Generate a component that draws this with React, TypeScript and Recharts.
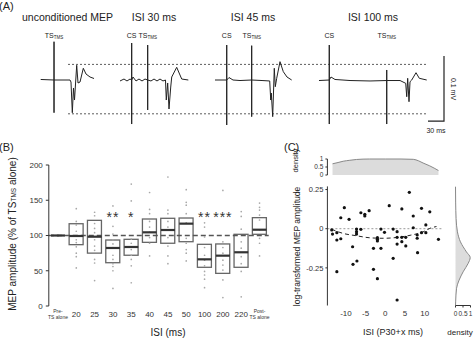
import React from 'react';
import {
  ComposedChart,
  AreaChart,
  Area,
  Line,
  Bar,
  Scatter,
  XAxis,
  YAxis,
  ReferenceLine,
} from 'recharts';

const FONT = '"Liberation Sans", Arial, Helvetica, sans-serif';
const INK = '#222';

// ---------- (A) example traces: time in ms, amplitude in µV ----------
const traceTitles = ['unconditioned MEP', 'ISI 30 ms', 'ISI 45 ms', 'ISI 100 ms'];

const traceUncond = [
  [1.3, 0.8], [26.3, 0], [26.3, 58.9], [26.3, -50.3], [26.3, 0], [56.3, 0], [58.1, -3.1],
  [60.6, -50.3], [62.8, -12.3], [64.7, -30.8], [68.8, 22.6], [71.3, -4.6], [75, -3.1],
  [81.2, 18], [86.3, 9.2], [93.8, 4.6], [101.3, 2.3],
];
const traceIsi30 = [
  [150, -1.5], [157.5, 1.5], [163.1, -1.5], [168.8, 1.5], [171.9, 0], [171.9, 56.9],
  [171.9, -67.7], [171.9, 0], [174.4, 4.6], [180, -1.5], [185.6, 1.5], [191.3, -1.5],
  [196.9, 1.5], [201.9, 0], [201.9, 53.8], [201.9, -46.1], [201.9, 0], [208.1, -1.5],
  [213.8, 1.5], [219.4, -1.5], [225, 1.5], [230.6, -1.5], [235.3, 0], [236.8, -30.8],
  [239.4, -4.6], [241.9, -44.6], [245.1, -10.8], [247, 4.6], [256.3, 19.5], [265.7, 1.5],
  [278.1, 0],
];
const traceIsi45 = [
  [328.1, 0], [350.1, 0], [350.1, 53.8], [350.1, -69.2], [350.1, 0], [354.4, 3.8],
  [361.9, 0], [375, -0.8], [396.9, 0], [396.9, 52.8], [396.9, -56.4], [396.9, 0],
  [416.3, -0.8], [430.7, -1.5], [432.6, -30.8], [433.7, -20], [436.3, -56.4], [439.3, 18],
  [441.2, -10.3], [443.8, 2.6], [450, 28.2], [456.2, 12.8], [463.1, 4.6], [471.9, 0],
];
const traceIsi100 = [
  [523.1, -0.8], [542.4, 0], [542.4, 53.8], [542.4, -67.7], [542.4, 0], [545.6, 4.6],
  [553.1, 0.8], [581.3, -0.8], [618.8, -1.5], [650.1, -0.8], [650.1, 15.4], [650.1, -67.7],
  [650.1, -0.8], [675, -0.8], [685.7, -5.1], [687.6, -25.7], [689.4, 2.6], [691.9, -33.4],
  [693.8, -2.6], [697, 0], [705, 11.2], [711.2, 2.6], [725.1, 0],
];
const stimTimes = [26.3, 171.9, 201.9, 350.1, 396.9, 542.4, 650.1];
const stimKinds = ['TS', 'CS', 'TS', 'CS', 'TS', 'CS', 'TS'];
const mepPeak = 24;
const mepTrough = -52;
const scaleBar = [[727.5, -63.1], [757.5, -63.1], [757.5, 36.9]];

// ---------- (B) MEP amplitude per ISI ----------
const isiLabels = ['Pre-TS alone', '20', '25', '30', '35', '40', '45', '50', '100', '200', '220', 'Post-TS alone'];
const q1 = [100, 87, 75, 61.4, 72, 90.3, 89, 91.2, 54.9, 46.3, 54.9, 101.7];
const q3 = [100, 116.7, 121.5, 93.6, 94.6, 123.4, 124.4, 124.8, 87.5, 88, 101.7, 125.3];
const medians = [100, 99.3, 98.3, 82.3, 83.7, 104.5, 107.8, 116.8, 66.2, 71.4, 76.2, 108.2];
const subjectValues = [
  [100, 100, 100, 100, 100, 100, 100, 100, 100, 100],
  [138, 120, 115, 106, 99, 94, 90, 84, 75, 70, 54],
  [133, 128, 117, 110, 104, 94, 85, 79, 66, 61, 36],
  [142, 113, 102, 94, 88, 83, 72, 66, 60, 56, 50, 25],
  [173, 149, 95, 89, 84, 80, 72, 66, 57, 33],
  [161, 137, 131, 120, 112, 105, 97, 89, 71],
  [183, 136, 131, 120, 112, 97, 85, 71, 60],
  [165, 147, 143, 131, 118, 96, 89, 80, 75, 64],
  [118, 112, 98, 83, 72, 65, 57, 49, 44, 38, 26],
  [164, 91, 83, 75, 65, 58, 51, 37, 12],
  [134, 127, 109, 91, 82, 70, 60, 49, 13],
  [146, 140, 136, 129, 122, 108, 96, 89, 71],
];
const starIndex = [3, 4, 8, 9];
const starText = ['**', '*', '**', '***'];
const STAR_LEVEL = 129;

// ---------- (C) log-transformed MEP vs ISI around P30 ----------
const cX = [
  -13.6, -13.4, -12.3, -12.3, -11.3, -12.3, -11.3, -10.4, -9.2, -8.3, -7.3, -7.3, -7.3, -8.2,
  -7.2, -6.2, -6.2, -5.2, -5.2, -4.1, -3.0, -3.0, -2.0, -2.0, -2.0, -2.0, -1.1, -0.2, -1.1,
  1.0, 2.0, 2.0, 3.0, 3.0, 3.0, 3.0, 4.2, 4.2, 4.2, 5.2, 5.2, 6.1, 7.1, 7.1, 8.1, 8.1, 8.2,
  9.2, 9.2, 10.3, 10.3, 11.3, 13.5,
];
const cY = [
  -0.008, -0.034, -0.025, -0.072, -0.064, -0.274, 0.07, 0.134, 0.06, -0.115, -0.002, -0.019,
  -0.034, -0.227, -0.206, 0.102, -0.004, 0.092, 0.081, 0.115, -0.125, -0.259, -0.057, -0.068,
  -0.078, -0.319, -0.002, -0.023, -0.125, 0.147, -0.002, -0.189, -0.019, -0.055, -0.098,
  -0.455, 0.126, -0.055, -0.083, -0.055, -0.11, 0.232, 0.081, 0.006, -0.04, -0.061, -0.153,
  0.13, -0.025, 0.024, -0.025, 0.108, -0.068,
];
const fitX = [-13.6, -10.7, -7.3, -3.9, -0.5, 2.9, 6.3, 9.6, 11.3, 13];
const fitY = [-0.004, -0.03, -0.045, -0.058, -0.061, -0.056, -0.042, -0.02, 0.002, 0.014];
const topDensX = [-13.4, -12, -10.7, -9, -7.3, -4, 0, 4, 7.1, 8.5, 9.6, 11.3, 13.5];
const topDensD = [0.7, 0.78, 0.86, 0.92, 0.97, 1, 1, 1, 0.98, 0.88, 0.75, 0.57, 0.28];
const sideDensY = [0.27, 0.247, 0.16, 0.108, 0.055, 0.002, -0.036, -0.072, -0.136, -0.2, -0.285, -0.39, -0.49];
const sideDensD = [0, 0.01, 0.07, 0.24, 0.51, 0.84, 0.98, 0.73, 0.33, 0.13, 0.04, 0.01, 0];

const pts = (a: number[][]) => a.map(([t, v]) => ({ t, v }));

function StimLabel(props: any) {
  const { cx, cy, payload } = props;
  if (cx == null) return null;
  return (
    <text x={cx} y={cy} textAnchor="middle" fontSize={7} fill={INK} fontFamily={FONT}>
      {payload.kind}
      {payload.kind === 'TS' && (
        <tspan fontSize={4.5} dy={0.8}>TMS</tspan>
      )}
    </text>
  );
}

function BoxShape(props: any) {
  const { x, y, width, height } = props;
  if (!(height > 0.5)) return null;
  return <rect x={x} y={y} width={width} height={height} fill="none" stroke="#666" strokeWidth={1.3} />;
}

function MedianShape(props: any) {
  const { cx, cy } = props;
  return <line x1={cx - 7} x2={cx + 7} y1={cy} y2={cy} stroke="#333" strokeWidth={2.2} />;
}

function DotShape(props: any) {
  return <circle cx={props.cx} cy={props.cy} r={0.85} fill="#a8a8a8" />;
}

function StarShape(props: any) {
  const { cx, cy, payload } = props;
  return (
    <text x={cx} y={cy + 6.5} textAnchor="middle" fontSize={14} letterSpacing={1} fill="#333" fontFamily={FONT}>
      {payload.s}
    </text>
  );
}

function IsiTick(props: any) {
  const { x, y, payload } = props;
  const label = isiLabels[payload.value];
  if (!label) return null;
  if (label.indexOf('TS alone') >= 0) {
    const head = label.split('-')[0] + '-';
    return (
      <g fill="#333" fontFamily={FONT}>
        <text x={x} y={y + 7} textAnchor="middle" fontSize={5}>{head}</text>
        <text x={x} y={y + 12.5} textAnchor="middle" fontSize={5}>TS alone</text>
      </g>
    );
  }
  return (
    <text x={x} y={y + 10.7} textAnchor="middle" fontSize={8} fill="#333" fontFamily={FONT}>{label}</text>
  );
}

function SmallTick(props: any) {
  const { x, y, payload, size } = props;
  return (
    <text x={x} y={y + size + 2} textAnchor="middle" fontSize={size} fill="#333" fontFamily={FONT}>
      {String(payload.value)}
    </text>
  );
}

export default function App() {
  const stimData = stimTimes.map((t, i) => ({ t, v: 65, kind: stimKinds[i] }));
  const boxTable = isiLabels.map((label, i) => ({ x: i, label, box: [q1[i], q3[i]], median: medians[i] }));
  const dotTable = subjectValues.flatMap((vals, i) => vals.map((y) => ({ x: i, y })));
  const starTable = starIndex.map((i, k) => ({ x: i, y: STAR_LEVEL, s: starText[k] }));
  const cPoints = cX.map((x, i) => ({ x, y: cY[i] }));
  const fitLine = fitX.map((x, i) => ({ x, y: fitY[i] }));
  const topDens = topDensX.map((x, i) => ({ x, d: topDensD[i] }));
  const sideDens = sideDensY.map((val, i) => ({ val, d: sideDensD[i] }));
  const titleCenters = [67.5, 154, 253, 373];

  return (
    <div style={{ position: 'absolute', left: 0, top: 0, width: 474, height: 338, background: '#fff', fontFamily: FONT, overflow: 'hidden' }}>
      {/* (A) traces */}
      <div style={{ position: 'absolute', left: 0, top: 0 }}>
        <ComposedChart width={474} height={140} margin={{ top: 30, right: 24, bottom: 10, left: 40 }}>
          <XAxis type="number" dataKey="t" domain={[0, 768.75]} hide allowDataOverflow />
          <YAxis type="number" domain={[-76.9, 76.9]} hide allowDataOverflow />
          <ReferenceLine segment={[{ x: 52.5, y: mepPeak }, { x: 727.5, y: mepPeak }]} stroke="#333" strokeDasharray="2 2" strokeWidth={0.8} ifOverflow="visible" />
          <ReferenceLine segment={[{ x: 52.5, y: mepTrough }, { x: 727.5, y: mepTrough }]} stroke="#333" strokeDasharray="2 2" strokeWidth={0.8} ifOverflow="visible" />
          {[traceUncond, traceIsi30, traceIsi45, traceIsi100].map((tr, i) => (
            <Line key={i} data={pts(tr)} dataKey="v" type="linear" stroke={INK} strokeWidth={1} dot={false} isAnimationActive={false} />
          ))}
          <Line data={pts(scaleBar)} dataKey="v" type="linear" stroke={INK} strokeWidth={1.2} dot={false} isAnimationActive={false} />
          <Scatter data={stimData} dataKey="v" shape={<StimLabel />} isAnimationActive={false} />
        </ComposedChart>
      </div>

      {/* (B) boxplots */}
      <div style={{ position: 'absolute', left: 0, top: 150 }}>
        <ComposedChart width={280} height={190} data={boxTable} margin={{ top: 15, right: 11.3, bottom: 0, left: 0 }}>
          <XAxis type="number" dataKey="x" domain={[-0.5, 11.5]} ticks={[0, 1, 2, 3, 4, 5, 6, 7, 8, 9, 10, 11]}
            axisLine={false} tickLine={false} tickSize={0} tickMargin={0} height={34} tick={<IsiTick />} interval={0} />
          <YAxis type="number" domain={[0, 200]} ticks={[0, 50, 100, 150, 200]} width={48.8} tickSize={3} tickMargin={3}
            axisLine={{ stroke: '#333' }} tickLine={{ stroke: '#333' }} tick={{ fontSize: 8, fill: '#333' }} />
          <ReferenceLine y={100} stroke="#555" strokeDasharray="5 3" strokeWidth={1.5} />
          <Bar dataKey="box" barSize={14} shape={<BoxShape />} isAnimationActive={false} />
          <Scatter data={dotTable} dataKey="y" shape={<DotShape />} isAnimationActive={false} />
          <Scatter dataKey="median" shape={<MedianShape />} isAnimationActive={false} />
          <Scatter data={starTable} dataKey="y" shape={<StarShape />} isAnimationActive={false} />
        </ComposedChart>
      </div>

      {/* (C) top density */}
      <div style={{ position: 'absolute', left: 280, top: 150 }}>
        <AreaChart width={170} height={30} data={topDens} margin={{ top: 9, right: 8.4, bottom: 5, left: 0 }}>
          <XAxis type="number" dataKey="x" domain={[-14.7, 14.3]} hide allowDataOverflow />
          <YAxis type="number" domain={[0, 1]} ticks={[0, 0.5, 1]} width={47.4} tickSize={2} tickMargin={2}
            axisLine={{ stroke: '#333' }} tickLine={{ stroke: '#333' }} tick={{ fontSize: 6.5, fill: '#333' }} interval={0} />
          <Area dataKey="d" type="monotone" stroke="#888" strokeWidth={1} fill="#dcdcdc" fillOpacity={1} isAnimationActive={false} />
        </AreaChart>
      </div>

      {/* (C) scatter */}
      <div style={{ position: 'absolute', left: 280, top: 180 }}>
        <ComposedChart width={170} height={158} margin={{ top: 6.4, right: 8.4, bottom: 0, left: 0 }}>
          <XAxis type="number" dataKey="x" domain={[-14.7, 14.3]} ticks={[-10, -5, 0, 5, 10]} height={32.5}
            axisLine={false} tickLine={false} tickSize={0} tickMargin={0} allowDataOverflow interval={0}
            tick={<SmallTick size={8} />} />
          <YAxis type="number" domain={[-0.49, 0.27]} ticks={[-0.25, 0, 0.25]} width={47.4} tickSize={2} tickMargin={2}
            axisLine={{ stroke: '#333' }} tickLine={{ stroke: '#333' }} tick={{ fontSize: 7.5, fill: '#333' }} allowDataOverflow interval={0} />
          <ReferenceLine y={0} stroke="#999" strokeDasharray="2 2" strokeWidth={1} />
          <Scatter data={cPoints} dataKey="y" fill="#111" shape={(p: any) => <circle cx={p.cx} cy={p.cy} r={1.6} fill="#111" />} isAnimationActive={false} />
          <Line data={fitLine} dataKey="y" type="monotone" stroke="#222" strokeWidth={1} strokeDasharray="4 3" dot={false} isAnimationActive={false} />
        </ComposedChart>
      </div>

      {/* (C) side density */}
      <div style={{ position: 'absolute', left: 440, top: 180 }}>
        <AreaChart width={34} height={158} layout="vertical" data={sideDens} margin={{ top: 6.4, right: 3.5, bottom: 0, left: 15.5 }}>
          <XAxis type="number" domain={[0, 1]} ticks={[0, 0.5, 1]} height={32.5} tickSize={2} tickMargin={0} interval={0}
            axisLine={{ stroke: '#333' }} tickLine={{ stroke: '#333' }} tick={<SmallTick size={6.5} />} />
          <YAxis type="number" dataKey="val" domain={[-0.49, 0.27]} hide allowDataOverflow />
          <Area dataKey="d" type="monotone" stroke="#888" strokeWidth={1} fill="#dcdcdc" fillOpacity={1} isAnimationActive={false} />
        </AreaChart>
      </div>

      {/* titles and annotations */}
      <svg width={474} height={338} style={{ position: 'absolute', left: 0, top: 0, pointerEvents: 'none' }} fontFamily={FONT} fill={INK}>
        <text x={-1} y={10} fontSize={11}>(A)</text>
        {traceTitles.map((t, i) => (
          <text key={t} x={titleCenters[i]} y={20.5} fontSize={10.5} textAnchor="middle">{t}</text>
        ))}
        <text transform="translate(450.5,89) rotate(90)" fontSize={7} textAnchor="middle">0.1 mV</text>
        <text x={436} y={133} fontSize={7} textAnchor="middle">30 ms</text>

        <text x={-1} y={151} fontSize={11}>(B)</text>
        <text transform="translate(16,234) rotate(-90)" fontSize={10} textAnchor="middle">
          MEP amplitude (% of TS<tspan fontSize={6.5}>TMS</tspan> alone)
        </text>
        <text x={168} y={336} fontSize={10} textAnchor="middle">ISI (ms)</text>

        <text x={284} y={151} fontSize={11}>(C)</text>
        <text transform="translate(297.5,160.5) rotate(-90)" fontSize={7.5} textAnchor="middle">density</text>
        <text transform="translate(299.5,246.5) rotate(-90)" fontSize={8.5} textAnchor="middle">log-transformed MEP amplitude</text>
        <text x={393} y={334.5} fontSize={9} textAnchor="middle">ISI (P30+x ms)</text>
        <text x={460} y={334.5} fontSize={8} textAnchor="middle">density</text>
      </svg>
    </div>
  );
}
